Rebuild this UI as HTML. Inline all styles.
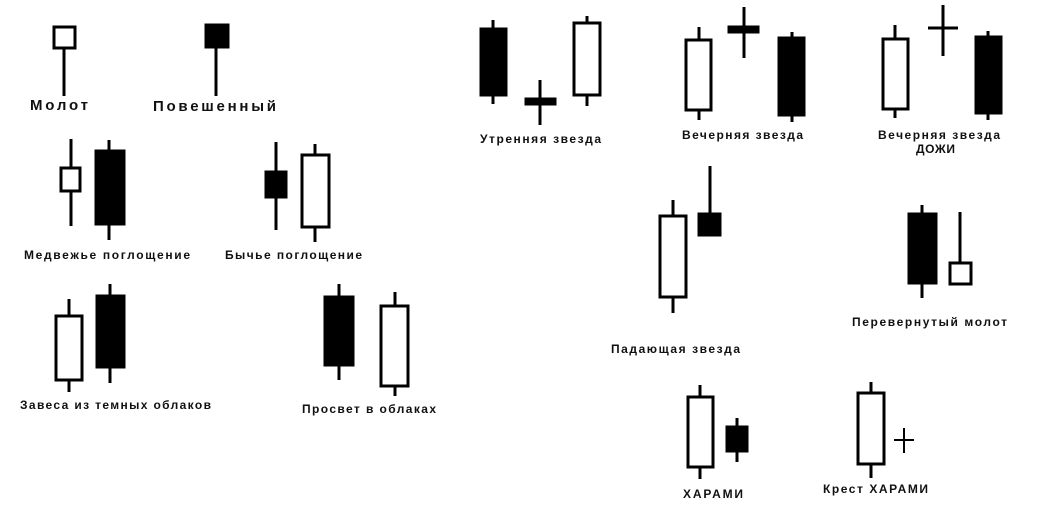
<!DOCTYPE html>
<html><head><meta charset="utf-8"><style>
html,body{margin:0;padding:0;background:#fff;width:1045px;height:532px;overflow:hidden}
svg text{font-family:"Liberation Sans",sans-serif;font-weight:bold;fill:#111}
.s{font-size:12px}
.b{font-size:15px}
</style></head><body>
<svg width="1045" height="532" xmlns="http://www.w3.org/2000/svg" stroke="#000" stroke-width="3">
<g fill="none">
<line x1="64" y1="48" x2="64" y2="96"/><rect x="54" y="27" width="21" height="21" fill="#fff"/>
<line x1="216" y1="47" x2="216" y2="96"/><rect x="206" y="25" width="22" height="22" fill="#000"/>
<line x1="71" y1="139" x2="71" y2="226"/><rect x="61" y="168" width="19" height="23" fill="#fff"/>
<line x1="109" y1="140" x2="109" y2="240"/><rect x="96" y="151" width="28" height="73" fill="#000"/>
<line x1="276" y1="142" x2="276" y2="230"/><rect x="266" y="172" width="20" height="25" fill="#000"/>
<line x1="315" y1="144" x2="315" y2="242"/><rect x="302" y="155" width="27" height="72" fill="#fff"/>
<line x1="69" y1="299" x2="69" y2="392"/><rect x="56" y="316" width="26" height="64" fill="#fff"/>
<line x1="110" y1="284" x2="110" y2="383"/><rect x="97" y="296" width="27" height="71" fill="#000"/>
<line x1="339" y1="284" x2="339" y2="380"/><rect x="325" y="297" width="28" height="68" fill="#000"/>
<line x1="395" y1="292" x2="395" y2="396"/><rect x="381" y="306" width="27" height="80" fill="#fff"/>
<line x1="493" y1="20" x2="493" y2="104"/><rect x="481" y="29" width="25" height="66" fill="#000"/>
<line x1="540" y1="80" x2="540" y2="125"/><rect x="526" y="99" width="29" height="5" fill="#000"/>
<line x1="587" y1="16" x2="587" y2="106"/><rect x="574" y="23" width="26" height="72" fill="#fff"/>
<line x1="699" y1="27" x2="699" y2="120"/><rect x="686" y="40" width="25" height="70" fill="#fff"/>
<line x1="744" y1="7" x2="744" y2="58"/><rect x="729" y="27" width="29" height="5" fill="#000"/>
<line x1="792" y1="32" x2="792" y2="122"/><rect x="779" y="38" width="25" height="77" fill="#000"/>
<line x1="895" y1="25" x2="895" y2="118"/><rect x="883" y="39" width="25" height="70" fill="#fff"/>
<line x1="943" y1="5" x2="943" y2="56"/><line x1="928" y1="28" x2="958" y2="28"/>
<line x1="988" y1="31" x2="988" y2="120"/><rect x="976" y="37" width="25" height="76" fill="#000"/>
<line x1="673" y1="200" x2="673" y2="313"/><rect x="660" y="216" width="26" height="81" fill="#fff"/>
<line x1="710" y1="166" x2="710" y2="214"/><rect x="699" y="214" width="21" height="21" fill="#000"/>
<line x1="922" y1="205" x2="922" y2="298"/><rect x="909" y="214" width="27" height="69" fill="#000"/>
<line x1="960" y1="212" x2="960" y2="263"/><rect x="950" y="263" width="21" height="21" fill="#fff"/>
<line x1="700" y1="385" x2="700" y2="479"/><rect x="688" y="397" width="25" height="70" fill="#fff"/>
<line x1="737" y1="418" x2="737" y2="462"/><rect x="727" y="427" width="20" height="24" fill="#000"/>
<line x1="871" y1="382" x2="871" y2="478"/><rect x="858" y="393" width="26" height="71" fill="#fff"/>
<line x1="904" y1="428" x2="904" y2="453" stroke-width="2"/><line x1="894" y1="440" x2="914" y2="440" stroke-width="2"/>
</g>
<g stroke="none">
<text class="b" x="30" y="110" textLength="58" lengthAdjust="spacing">Молот</text>
<text class="b" x="153" y="111" textLength="123" lengthAdjust="spacing">Повешенный</text>
<text class="s" x="24" y="259" textLength="166" lengthAdjust="spacing">Медвежье поглощение</text>
<text class="s" x="225" y="259" textLength="137" lengthAdjust="spacing">Бычье поглощение</text>
<text class="s" x="20" y="409" textLength="191" lengthAdjust="spacing">Завеса из темных облаков</text>
<text class="s" x="302" y="413" textLength="134" lengthAdjust="spacing">Просвет в облаках</text>
<text class="s" x="480" y="143" textLength="121" lengthAdjust="spacing">Утренняя звезда</text>
<text class="s" x="682" y="139" textLength="121" lengthAdjust="spacing">Вечерняя звезда</text>
<text class="s" x="878" y="139" textLength="122" lengthAdjust="spacing">Вечерняя звезда</text>
<text class="s" x="916" y="153" textLength="39" lengthAdjust="spacing">ДОЖИ</text>
<text class="s" x="611" y="353" textLength="129" lengthAdjust="spacing">Падающая звезда</text>
<text class="s" x="852" y="326" textLength="155" lengthAdjust="spacing">Перевернутый молот</text>
<text class="s" x="683" y="498" textLength="60" lengthAdjust="spacing">ХАРАМИ</text>
<text class="s" x="823" y="493" textLength="105" lengthAdjust="spacing">Крест ХАРАМИ</text>
</g>
</svg>
</body></html>
